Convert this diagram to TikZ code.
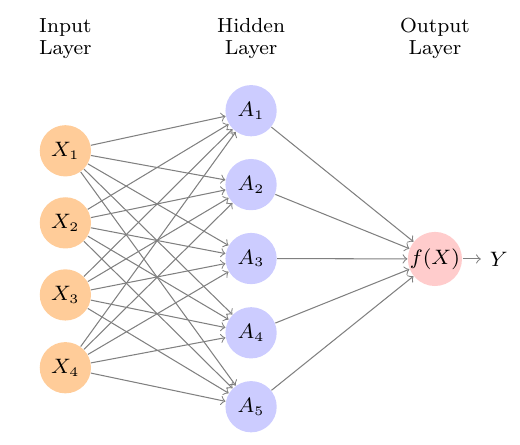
\documentclass[tikz,border=0pt]{standalone}
\usetikzlibrary{shapes}

\begin{document}
\begin{tikzpicture}
  \useasboundingbox (0,0) rectangle (7.0,-5.99);
  \tikzstyle{every node}=[font=\fontsize{7.8}{8.5}\selectfont]
  \tikzstyle{neuron}=[circle,minimum size=6.9mm,inner sep=0pt]
  \tikzstyle{input neuron}=[neuron,fill=orange!40]
  \tikzstyle{hidden neuron}=[neuron,fill=blue!20]
  \tikzstyle{output neuron}=[neuron,fill=red!20]
  \tikzstyle{annot}=[align=center]
  \tikzstyle{conn}=[->,draw=gray]
  \newcommand{\inx}{0.88}
  \newcommand{\hidx}{3.38}
  \newcommand{\outx}{5.855}

%% layers
  \foreach \n/\y in {1/-2.03, 2/-3.00, 3/-3.97, 4/-4.95}
    \node[input neuron] (I-\n) at (\inx,\y) {$X_\n$};
  \foreach \n/\y in {1/-1.49, 2/-2.485, 3/-3.48, 4/-4.48, 5/-5.475}
    \node[hidden neuron] (H-\n) at (\hidx,\y) {$A_\n$};
  \node[output neuron] (O) at (\outx,-3.486) {$f(X)$};
  \node (Y) at (6.716,-3.486) {$Y$};

%% connections
  \foreach \i in {1,...,4}
    \foreach \h in {1,...,5}
      \draw[conn] (I-\i) -- (H-\h);
  \foreach \h in {1,...,5}
    \draw[conn] (H-\h) -- (O);
  \draw[conn] (O) -- (Y);

%% layer titles
  \node[annot] (T-in)  at (\inx,-0.52)  {Input\\Layer};
  \node[annot] (T-hid) at (\hidx,-0.52) {Hidden\\Layer};
  \node[annot] (T-out) at (\outx,-0.52) {Output\\Layer};
\end{tikzpicture}
\end{document}
